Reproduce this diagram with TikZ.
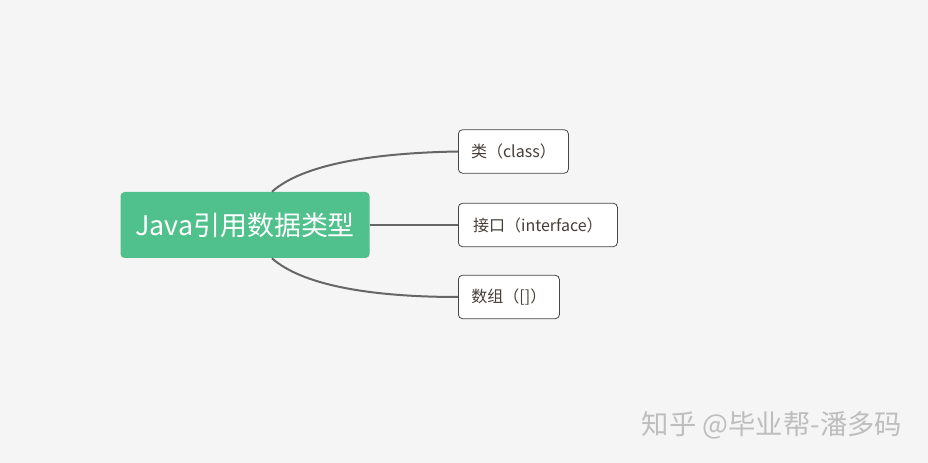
\documentclass[tikz,border=0pt]{standalone}
\usepackage{fontspec}
\setmainfont{Noto Sans CJK SC}
\definecolor{bgcol}{RGB}{245,245,245}
\definecolor{rootgreen}{RGB}{80,192,140}
\definecolor{linkgray}{RGB}{102,102,102}
\definecolor{leafline}{RGB}{70,70,70}
\definecolor{leaftext}{RGB}{70,62,55}
\definecolor{markgray}{RGB}{190,190,190}

\begin{document}
\begin{tikzpicture}[x=0.75pt,y=-0.75pt]
\tikzstyle{every node}+=[inner sep=0pt]
\tikzstyle{rootbox}=[fill=rootgreen, rounded corners=3pt, text=white, minimum width=186.75pt, minimum height=49.5pt, font=\fontsize{20.2}{23}\selectfont]
\tikzstyle{leaf}=[draw=leafline, line width=0.6pt, fill=white, rounded corners=3pt, anchor=west, minimum height=32.5pt, text=leaftext, font=\fontsize{12}{14}\selectfont]
\tikzstyle{link}=[draw=linkgray, line width=1.5pt]
\fill [bgcol] (0,0) rectangle (928,463);
\useasboundingbox (0,0) rectangle (928,463);
\node [rootbox] (root) at (245,225) {Java引用数据类型};
\node [leaf, minimum width=82.5pt] (cls) at (458,151.5) {类（class）};
\node [leaf, minimum width=119.25pt] (iface) at (458,225) {接口（interface）};
\node [leaf, minimum width=75.75pt] (arr) at (458,297) {数组（[]）};
\draw [link] (root.51) .. controls (302,165) and (370,153) .. (cls.west);
\draw [link] (root.east) -- (iface.west);
\draw [link] (root.-51) .. controls (302,285) and (370,297) .. (arr.west);
\node [text=markgray, font=\fontsize{20.5}{24}\selectfont] (mark) at (772,425) {知乎 @毕业帮-潘多码};
\end{tikzpicture}
\end{document}
